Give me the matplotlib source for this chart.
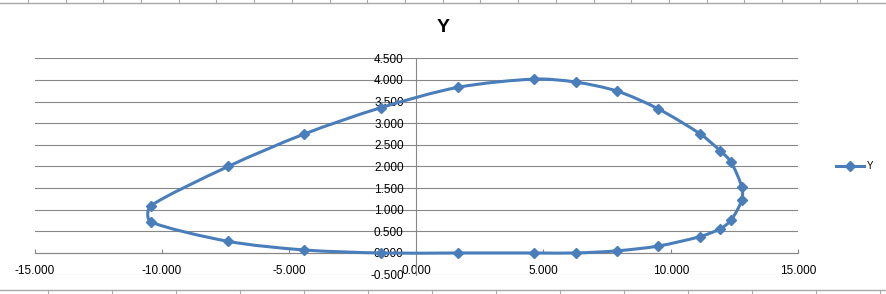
import numpy as np
from matplotlib import pyplot as plt
from matplotlib.path import Path
from matplotlib.patches import PathPatch
from matplotlib.lines import Line2D

# values, going round the loop
# lower side, left to right
xLower = [-10.43, -7.40, -4.41, -1.40, 1.65, 4.64, 6.27, 7.90, 9.51, 11.16, 11.95, 12.37, 12.79]
yLower = [0.72, 0.27, 0.07, 0.00, 0.00, 0.00, 0.00, 0.05, 0.16, 0.38, 0.56, 0.76, 1.22]
# upper side, right to left
xUpper = [12.79, 12.37, 11.95, 11.16, 9.51, 7.90, 6.27, 4.64, 1.65, -1.38, -4.40, -7.39, -10.43]
yUpper = [1.53, 2.10, 2.36, 2.75, 3.33, 3.74, 3.95, 4.02, 3.83, 3.36, 2.75, 2.00, 1.09]

seriesName = "Y"
xTicks = [-15, -10, -5, 0, 5, 10, 15]
yTicks = [-0.5, 0, 0.5, 1, 1.5, 2, 2.5, 3, 3.5, 4, 4.5]

lineColor = "#4A7EBB"
gridColor = "#878787"
plt.rcParams['font.family'] = ['Liberation Sans', 'DejaVu Sans']

xs = np.array(xLower + xUpper)
ys = np.array(yLower + yUpper)


# smoothed closed line like Excel does it (bezier through the points),
# worked out in pixel space so short segments don't bulge too much
def smoothPath(pts, t=1/6, cap=0.3):
    n = len(pts)
    verts = [tuple(pts[0])]
    codes = [Path.MOVETO]
    for i in range(n):
        p0, p1 = pts[i - 1], pts[i]
        p2, p3 = pts[(i + 1) % n], pts[(i + 2) % n]
        seg = np.hypot(*(p2 - p1))
        a1 = (p2 - p0) * t
        a2 = (p3 - p1) * t
        if np.hypot(*a1) > cap * seg:
            a1 = a1 / np.hypot(*a1) * cap * seg
        if np.hypot(*a2) > cap * seg:
            a2 = a2 / np.hypot(*a2) * cap * seg
        verts += [tuple(p1 + a1), tuple(p2 - a2), tuple(p2)]
        codes += [Path.CURVE4] * 3
    return Path(verts, codes)


fig = plt.figure(figsize=(8.87, 2.94), dpi=100)
ax = fig.add_axes([34.5 / 887, 1 - 274.6 / 294, 763.5 / 887, 216.3 / 294])

ax.set_xlim(-15, 15)
ax.set_ylim(-0.5, 4.5)

pix = ax.transData.transform(np.column_stack([xs, ys]))
ax.add_patch(PathPatch(smoothPath(pix), facecolor='none', edgecolor=lineColor,
                       lw=2.2, zorder=3, transform=None))
ax.plot(xs, ys, linestyle='none', marker='D', markersize=5, color=lineColor, zorder=4)

ax.set_xticks(xTicks)
ax.set_yticks(yTicks)
ax.set_xticklabels(["%.3f" % v for v in xTicks])
ax.set_yticklabels(["%.3f" % v for v in yTicks])

ax.spines['top'].set_visible(False)
ax.spines['right'].set_visible(False)
ax.spines['left'].set_position(('data', 0))
ax.spines['bottom'].set_position(('data', 0))
ax.spines['left'].set_color(gridColor)
ax.spines['bottom'].set_color(gridColor)
ax.spines['left'].set_linewidth(0.8)
ax.spines['bottom'].set_linewidth(0.8)
ax.yaxis.grid(True, color=gridColor, lw=0.8)
ax.set_axisbelow(True)
ax.tick_params(axis='x', direction='in', length=3, color=gridColor, pad=9, labelsize=8.5)
ax.tick_params(axis='y', length=0, pad=9, labelsize=8.5)

fig.text(0.5, 1 - 28 / 294, seriesName, ha='center', va='center', fontsize=14, fontweight='bold')

handle = Line2D([], [], color=lineColor, lw=2.2, marker='D', markersize=5)
fig.legend([handle], [seriesName], loc='center left', bbox_to_anchor=(836 / 887, 1 - 166 / 294),
           frameon=False, fontsize=7, handlelength=2.9, handletextpad=0.3,
           borderpad=0, borderaxespad=0)

# spreadsheet cell borders showing around the chart
cellColor = "#a8a8a8"
fig.add_artist(Line2D([0, 1], [1 - 2.5 / 294] * 2, color=cellColor, lw=1))
fig.add_artist(Line2D([0, 1], [1 - 290 / 294] * 2, color=cellColor, lw=1))
for cx in np.arange(28, 887, 37.7):
    fig.add_artist(Line2D([cx / 887] * 2, [1, 1 - 2.5 / 294], color=cellColor, lw=0.8))
for cx in np.arange(47.7, 887, 64.0):
    fig.add_artist(Line2D([cx / 887] * 2, [1 - 290 / 294, 0], color=cellColor, lw=0.8))

fig.savefig("out.png", dpi=100)
